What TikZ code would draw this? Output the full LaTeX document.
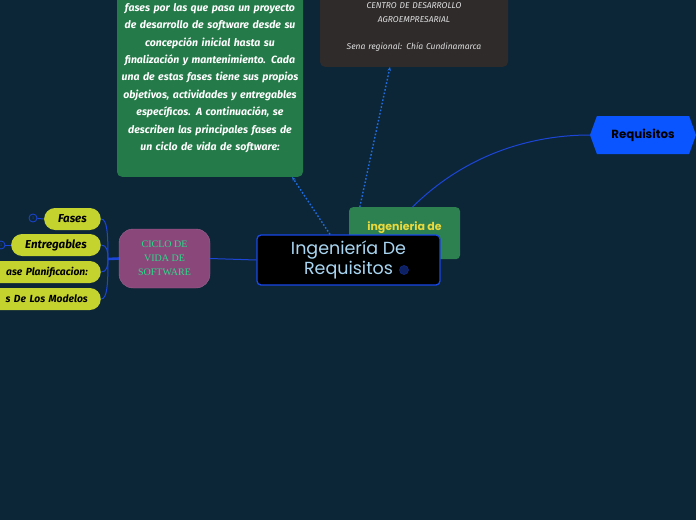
\documentclass[tikz,border=0pt]{standalone}
\usepackage{fontspec}
\setmainfont{Liberation Serif}
\newfontfamily\handfont{Fira Sans}
\newfontfamily\geofont{Poppins}
\usetikzlibrary{shapes.symbols,arrows.meta}
\definecolor{bgnavy}{RGB}{12,38,56}
\definecolor{linkblue}{RGB}{28,70,215}
\definecolor{dotblue}{RGB}{30,110,225}
\definecolor{pillgreen}{RGB}{197,211,46}
\definecolor{cicloback}{RGB}{138,72,122}
\definecolor{ciclotext}{RGB}{46,216,138}
\definecolor{introgreen}{RGB}{36,122,72}
\definecolor{inggreen}{RGB}{45,128,80}
\definecolor{ingyellow}{RGB}{234,217,60}
\definecolor{centrogray}{RGB}{47,43,43}
\definecolor{mainblue}{RGB}{24,72,232}
\definecolor{maintext}{RGB}{169,214,242}
\definecolor{hexblue}{RGB}{10,85,255}
\tikzset{
  link/.style={draw=linkblue, line width=1pt},
  dotlink/.style={draw=dotblue, line width=1.4pt, dash pattern=on 1.6pt off 1.9pt},
  pill/.style={fill=pillgreen, rounded corners=11pt, minimum height=22pt, inner xsep=14pt, inner ysep=0pt, anchor=east, text=black, font=\handfont\itshape\bfseries\fontsize{11.5}{14}\selectfont},
  cutpill/.style={pill, text width=100pt, align=right, inner xsep=13pt, font=\handfont\itshape\bfseries\fontsize{10.3}{14}\selectfont},
  marker/.style={circle, draw=linkblue, line width=0.8pt, inner sep=0pt, minimum size=8pt, text=linkblue, font=\fontsize{4}{4}\selectfont},
}
\begin{document}
\begin{tikzpicture}[x=1pt,y=-1pt]
	\fill[bgnavy] (0,0) rectangle (696,520);
	\useasboundingbox (0,0) rectangle (696,520);
	% boxes at the top
	\node[fill=introgreen, rounded corners=5pt, text=white, text width=184pt, align=center, inner xsep=1pt, inner ysep=24pt, anchor=south, font=\handfont\itshape\bfseries\fontsize{10.5}{17.4}\selectfont] (intro) at (210,177) {fases por las que pasa un proyecto\\de desarrollo de software desde su\\concepción inicial hasta su\\finalización y mantenimiento. Cada\\una de estas fases tiene sus propios\\objetivos, actividades y entregables\\específicos. A continuación, se\\describen las principales fases de\\un ciclo de vida de software:};
	\node[fill=centrogray, rounded corners=5pt, text=white!88!black, text width=180pt, align=center, inner xsep=4pt, inner ysep=15pt, anchor=south, font=\handfont\itshape\fontsize{8.5}{13.7}\selectfont] (centro) at (414,67) {CENTRO DE DESARROLLO\\AGROEMPRESARIAL\\[13.7pt]Sena regional: Chía Cundinamarca};
	% nodes round the centre
	\node[fill=inggreen, rounded corners=4pt, minimum width=111pt, inner ysep=14pt, text height=9pt, text depth=15pt, anchor=north, text=ingyellow, font=\geofont\bfseries\fontsize{11}{12}\selectfont] (ing) at (404.5,207) {ingenieria de};
	\node[signal, signal to=west and east, signal pointer angle=140, fill=hexblue, minimum height=38pt, minimum width=106pt, inner sep=0pt, text=black, font=\geofont\bfseries\fontsize{11.8}{13}\selectfont] (req) at (643,135) {Requisitos};
	\node[fill=black, draw=mainblue, line width=1.3pt, rounded corners=4pt, minimum width=183pt, minimum height=50pt, align=center, text=maintext, font=\geofont\fontsize{17.5}{20}\selectfont] (main) at (348.5,260) {Ingeniería De\\Requisitos};
	\fill[draw=linkblue!60!black, fill=linkblue!45!black, line width=0.6pt] (404,270) circle (4.5);
	\node[fill=cicloback, draw=cicloback!85!white, rounded corners=14pt, minimum width=91pt, minimum height=59pt, align=center, text=ciclotext, font=\fontsize{10}{14}\selectfont] (ciclo) at (164.5,258.5) {CICLO DE\\VIDA DE\\SOFTWARE};
	% branches on the left
	\node[pill] (fases) at (101,219) {Fases};
	\node[pill] (entregables) at (101,245) {Entregables};
	\node[cutpill] (planificacion) at (101,272) {ase Planificacion:};
	\node[cutpill] (modelos) at (101,299) {s De Los Modelos};
	\node[marker] (m1) at (33,218) {1};
	\node[marker] (m2) at (1,245) {1};
	\coordinate (hub) at (108,259);
	% connectors
	\draw[link] (main.west) -- (ciclo.east);
	\draw[link, line width=2.6pt] (ciclo.west) -- (hub);
	\draw[link] (hub) .. controls (108,232) and (107,219) .. (fases.east);
	\draw[link] (hub) .. controls (108,251) and (107,245) .. (entregables.east);
	\draw[link] (hub) .. controls (108,266) and (107,272) .. (planificacion.east);
	\draw[link] (hub) .. controls (108,286) and (107,299) .. (modelos.east);
	\draw[link] (m1) -- (fases.west);
	\draw[link] (m2) -- (entregables.west);
	\draw[link] ([xshift=8pt]ing.north) .. controls (465,155) and (530,135) .. (req.west);
	\draw[dotlink, -{Stealth[length=4pt,width=3.5pt]}] ([xshift=11pt]ing.north west) -- ([xshift=-24pt]centro.south);
	\draw[dotlink, -{Stealth[length=4pt,width=3.5pt]}] ([xshift=-18.5pt]main.north) -- ([xshift=-11pt]intro.south east);
\end{tikzpicture}
\end{document}
